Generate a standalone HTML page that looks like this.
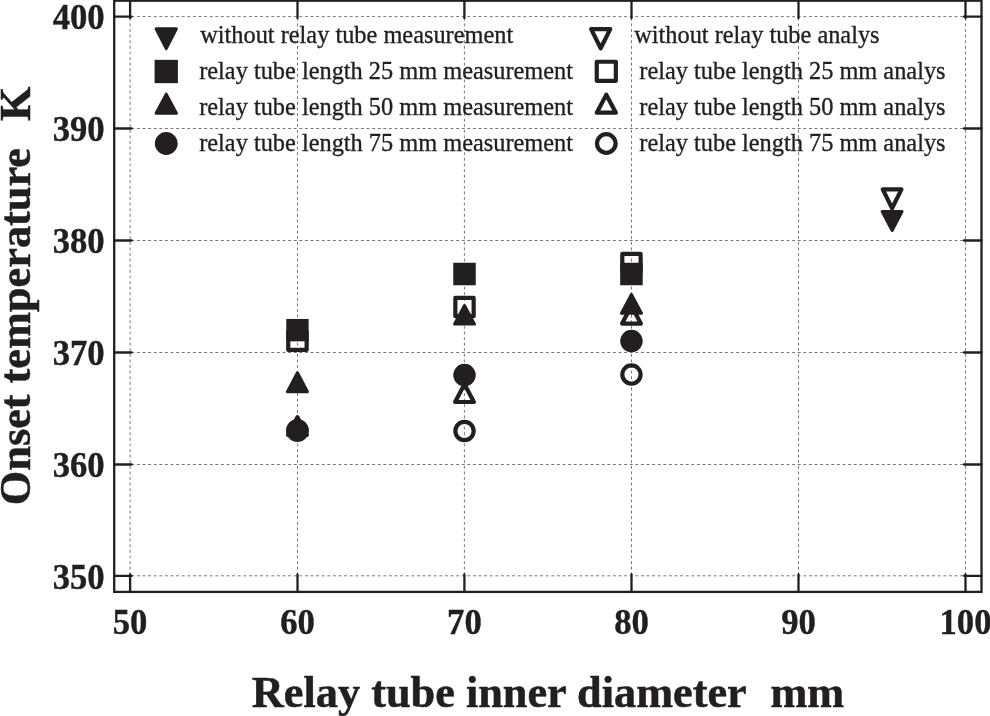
<!DOCTYPE html>
<html lang="en"><head><meta charset="utf-8"><title>Onset temperature vs relay tube inner diameter</title>
<style>html,body{margin:0;padding:0;background:#fff}body{width:990px;height:716px;overflow:hidden}svg{display:block}text{font-family:"Liberation Serif","Times New Roman",Times,serif;fill:#231f20}.tk{font-weight:bold;font-size:34.6px;stroke:#231f20;stroke-width:.4px}.ti{font-weight:bold;font-size:44.3px;stroke:#231f20;stroke-width:.5px}.lg{font-size:24.35px;stroke:#231f20;stroke-width:.35px}.f{fill:#231f20;stroke:#231f20;stroke-linejoin:round}.o{fill:none;stroke:#231f20;stroke-linejoin:round}</style></head><body>
<svg width="990" height="716" viewBox="0 0 990 716">
<rect width="990" height="716" fill="#fff"/>
<g stroke="#68686a" stroke-width="0.9" stroke-dasharray="2.9 2.7" stroke-dashoffset="4.35" fill="none">
<line x1="130.1" y1="16.6" x2="130.1" y2="575.8"/>
<line x1="297.5" y1="16.6" x2="297.5" y2="575.8"/>
<line x1="464.4" y1="16.6" x2="464.4" y2="575.8"/>
<line x1="631.5" y1="16.6" x2="631.5" y2="575.8"/>
<line x1="798.5" y1="16.6" x2="798.5" y2="575.8"/>
<line x1="965.5" y1="16.6" x2="965.5" y2="575.8"/>
<line x1="130.1" y1="16.6" x2="965.5" y2="16.6"/>
<line x1="130.1" y1="128.5" x2="965.5" y2="128.5"/>
<line x1="130.1" y1="240.5" x2="965.5" y2="240.5"/>
<line x1="130.1" y1="352.5" x2="965.5" y2="352.5"/>
<line x1="130.1" y1="464.5" x2="965.5" y2="464.5"/>
<line x1="130.1" y1="575.8" x2="965.5" y2="575.8"/>
</g>
<g stroke="#231f20" stroke-width="2.3" fill="none" stroke-linecap="round">
<rect x="114.2" y="0.7" width="867.3" height="591.2"/>
<line x1="130.1" y1="591.9" x2="130.1" y2="574.4"/>
<line x1="130.1" y1="0.7" x2="130.1" y2="18.2"/>
<line x1="297.5" y1="591.9" x2="297.5" y2="574.4"/>
<line x1="297.5" y1="0.7" x2="297.5" y2="18.2"/>
<line x1="464.4" y1="591.9" x2="464.4" y2="574.4"/>
<line x1="464.4" y1="0.7" x2="464.4" y2="18.2"/>
<line x1="631.5" y1="591.9" x2="631.5" y2="574.4"/>
<line x1="631.5" y1="0.7" x2="631.5" y2="18.2"/>
<line x1="798.5" y1="591.9" x2="798.5" y2="574.4"/>
<line x1="798.5" y1="0.7" x2="798.5" y2="18.2"/>
<line x1="965.5" y1="591.9" x2="965.5" y2="574.4"/>
<line x1="965.5" y1="0.7" x2="965.5" y2="18.2"/>
<line x1="114.2" y1="16.6" x2="131.7" y2="16.6"/>
<line x1="981.5" y1="16.6" x2="964.0" y2="16.6"/>
<line x1="114.2" y1="128.5" x2="131.7" y2="128.5"/>
<line x1="981.5" y1="128.5" x2="964.0" y2="128.5"/>
<line x1="114.2" y1="240.5" x2="131.7" y2="240.5"/>
<line x1="981.5" y1="240.5" x2="964.0" y2="240.5"/>
<line x1="114.2" y1="352.5" x2="131.7" y2="352.5"/>
<line x1="981.5" y1="352.5" x2="964.0" y2="352.5"/>
<line x1="114.2" y1="464.5" x2="131.7" y2="464.5"/>
<line x1="981.5" y1="464.5" x2="964.0" y2="464.5"/>
<line x1="114.2" y1="575.8" x2="131.7" y2="575.8"/>
<line x1="981.5" y1="575.8" x2="964.0" y2="575.8"/>
</g>
<text class="tk" transform="translate(104.6 29.4) scale(1 1.05)" text-anchor="end">400</text>
<text class="tk" transform="translate(104.6 141.3) scale(1 1.05)" text-anchor="end">390</text>
<text class="tk" transform="translate(104.6 253.3) scale(1 1.05)" text-anchor="end">380</text>
<text class="tk" transform="translate(104.6 365.3) scale(1 1.05)" text-anchor="end">370</text>
<text class="tk" transform="translate(104.6 477.3) scale(1 1.05)" text-anchor="end">360</text>
<text class="tk" transform="translate(104.6 588.5) scale(1 1.05)" text-anchor="end">350</text>
<text class="tk" transform="translate(130.1 634.4) scale(1 1.05)" text-anchor="middle">50</text>
<text class="tk" transform="translate(297.5 634.4) scale(1 1.05)" text-anchor="middle">60</text>
<text class="tk" transform="translate(464.4 634.4) scale(1 1.05)" text-anchor="middle">70</text>
<text class="tk" transform="translate(631.5 634.4) scale(1 1.05)" text-anchor="middle">80</text>
<text class="tk" transform="translate(798.5 634.4) scale(1 1.05)" text-anchor="middle">90</text>
<text class="tk" transform="translate(965.5 634.4) scale(1 1.05)" text-anchor="middle">100</text>
<text class="ti" x="251.8" y="706.8" xml:space="preserve">Relay tube inner diameter&#160;&#160;<tspan dx="1.5">mm</tspan></text>
<text class="ti" transform="translate(30.2 505.2) rotate(-90)" xml:space="preserve">Onset temperature&#160;&#160;<tspan dx="4.8">K</tspan></text>
<polygon class="o" stroke-width="4.2" points="882.75,189.40 901.45,189.40 892.10,208.20"/>
<rect class="o" stroke-width="4.2" x="288.25" y="331.50" width="18.40" height="18.40"/>
<rect class="o" stroke-width="4.2" x="455.35" y="297.85" width="18.30" height="18.30"/>
<rect class="o" stroke-width="4.2" x="622.30" y="253.85" width="18.30" height="18.30"/>
<polygon class="o" stroke-width="4.2" points="297.45,417.30 306.85,434.90 288.05,434.90"/>
<polygon class="o" stroke-width="4.2" points="464.50,384.30 473.90,402.00 455.10,402.00"/>
<polygon class="o" stroke-width="4.2" points="631.45,306.00 640.85,323.60 622.05,323.60"/>
<circle class="o" stroke-width="4.2" cx="297.45" cy="430.50" r="9.15"/>
<circle class="o" stroke-width="4.2" cx="464.50" cy="431.00" r="9.15"/>
<circle class="o" stroke-width="4.2" cx="631.45" cy="374.60" r="9.15"/>
<polygon class="f" stroke-width="3.0" points="882.15,211.50 902.05,211.50 892.10,230.50"/>
<rect fill="#231f20" x="286.25" y="318.95" width="22.40" height="22.40"/>
<rect fill="#231f20" x="453.25" y="262.75" width="22.50" height="22.50"/>
<rect fill="#231f20" x="620.20" y="262.75" width="22.50" height="22.50"/>
<polygon class="f" stroke-width="3.0" points="297.45,372.80 307.45,391.70 287.45,391.70"/>
<polygon class="f" stroke-width="3.0" points="464.50,305.50 474.50,324.10 454.50,324.10"/>
<polygon class="f" stroke-width="3.0" points="631.45,294.40 641.45,313.30 621.45,313.30"/>
<circle class="f" stroke-width="4.2" cx="297.45" cy="430.50" r="9.15"/>
<circle class="f" stroke-width="4.2" cx="464.50" cy="375.10" r="9.15"/>
<circle class="f" stroke-width="4.2" cx="631.45" cy="341.10" r="9.15"/>
<polygon class="f" stroke-width="3.0" points="156.10,28.80 176.40,28.80 166.25,48.60"/>
<rect fill="#231f20" x="154.60" y="59.85" width="23.30" height="23.30"/>
<polygon class="f" stroke-width="3.0" points="166.25,94.10 176.40,113.30 156.10,113.30"/>
<circle class="f" stroke-width="4.2" cx="166.25" cy="143.50" r="9.30"/>
<polygon class="o" stroke-width="4.2" points="591.15,29.10 610.25,29.10 600.70,48.30"/>
<rect class="o" stroke-width="4.2" x="596.75" y="61.75" width="19.10" height="19.10"/>
<polygon class="o" stroke-width="4.2" points="606.30,94.70 615.85,112.70 596.75,112.70"/>
<circle class="o" stroke-width="4.2" cx="606.30" cy="143.50" r="9.30"/>
<text class="lg" x="200.2" y="42.7">without relay tube measurement</text>
<text class="lg" x="199.2" y="78.7">relay tube length 25 mm measurement</text>
<text class="lg" x="199.2" y="114.6">relay tube length 50 mm measurement</text>
<text class="lg" x="199.2" y="150.6">relay tube length 75 mm measurement</text>
<text class="lg" x="634.2" y="42.7">without relay tube analys</text>
<text class="lg" x="639.3" y="78.7">relay tube length 25 mm analys</text>
<text class="lg" x="639.3" y="114.6">relay tube length 50 mm analys</text>
<text class="lg" x="639.3" y="150.6">relay tube length 75 mm analys</text>
</svg></body></html>
